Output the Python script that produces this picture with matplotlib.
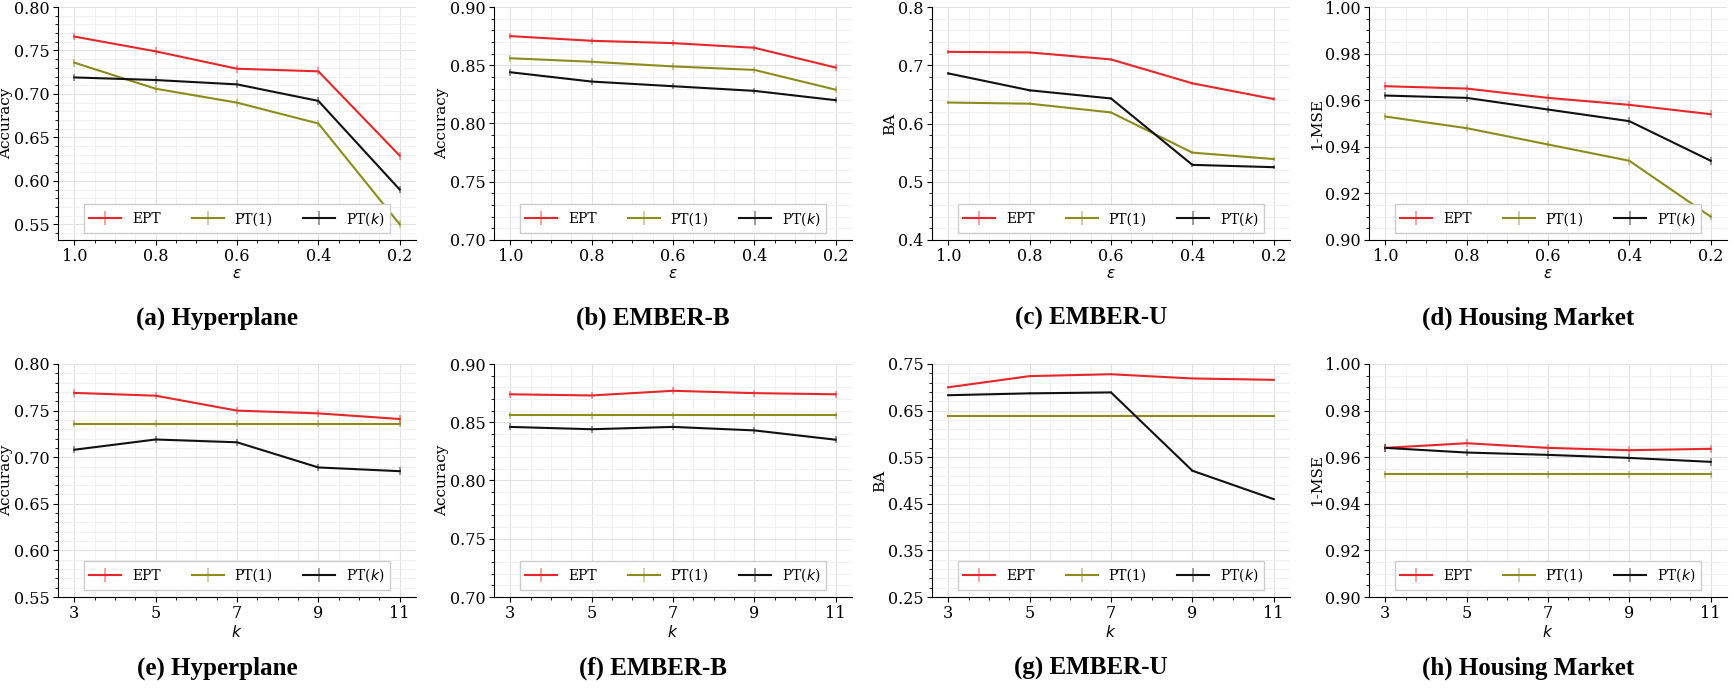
import matplotlib
matplotlib.use('Agg')
import matplotlib.pyplot as plt
from matplotlib.ticker import AutoMinorLocator

# Data

eps = [1.0, 0.8, 0.6, 0.4, 0.2]
ks = [3, 5, 7, 9, 11]
methods = ['EPT', 'PT(1)', 'PT($k$)']

# top row: varying epsilon
hyper_eps = [[0.766, 0.749, 0.729, 0.726, 0.629],
             [0.736, 0.706, 0.690, 0.666, 0.550],
             [0.719, 0.716, 0.711, 0.692, 0.590]]
emberb_eps = [[0.875, 0.871, 0.869, 0.865, 0.848],
              [0.856, 0.853, 0.849, 0.846, 0.829],
              [0.844, 0.836, 0.832, 0.828, 0.820]]
emberu_eps = [[0.723, 0.722, 0.710, 0.669, 0.642],
              [0.636, 0.634, 0.619, 0.550, 0.539],
              [0.686, 0.657, 0.643, 0.529, 0.525]]
housing_eps = [[0.966, 0.965, 0.961, 0.958, 0.954],
               [0.953, 0.948, 0.941, 0.934, 0.910],
               [0.962, 0.961, 0.956, 0.951, 0.934]]

# bottom row: varying k
hyper_k = [[0.769, 0.766, 0.750, 0.747, 0.741],
           [0.736, 0.736, 0.736, 0.736, 0.736],
           [0.708, 0.719, 0.716, 0.689, 0.685]]
emberb_k = [[0.874, 0.873, 0.877, 0.875, 0.874],
            [0.856, 0.856, 0.856, 0.856, 0.856],
            [0.846, 0.844, 0.846, 0.843, 0.835]]
emberu_k = [[0.700, 0.724, 0.728, 0.719, 0.716],
            [0.638, 0.638, 0.638, 0.638, 0.638],
            [0.683, 0.687, 0.689, 0.521, 0.460]]
housing_k = [[0.964, 0.966, 0.964, 0.963, 0.9636],
             [0.9526, 0.9526, 0.9526, 0.9526, 0.9526],
             [0.964, 0.962, 0.961, 0.9597, 0.958]]

# half-width of the error bars per series
err_hyper_eps = [0.0045, 0.0045, 0.0045]
err_emberb_eps = [0.0028, 0.0028, 0.0028]
err_emberu_eps = [0.003, 0.003, 0.003]
err_housing_eps = [0.0016, 0.0016, 0.0016]
err_hyper_k = [0.004, 0.004, 0.004]
err_emberb_k = [0.003, 0.003, 0.003]
err_emberu_k = [0.002, 0.002, 0.002]
err_housing_k = [0.0016, 0.0016, 0.0016]

captions = ['(a) Hyperplane', '(b) EMBER-B', '(c) EMBER-U', '(d) Housing Market',
            '(e) Hyperplane', '(f) EMBER-B', '(g) EMBER-U', '(h) Housing Market']

colors = ['#e8262a', '#8c8c1e', '#111111']


def draw_panel(ax, x, series, errs, ylabel, xlabel, yticks, ylim, invert):
    for vals, err, color, name in zip(series, errs, colors, methods):
        cont = ax.errorbar(x, vals, yerr=err, color=color, lw=1.5,
                           elinewidth=1.3, label=name)
        for bar in cont[2]:
            bar.set_alpha(0.45)
    ax.set_yticks(yticks)
    ax.set_ylim(*ylim)
    ax.set_xticks(x)
    if invert:
        ax.set_xlim(1.04, 0.16)
    else:
        ax.set_xlim(2.6, 11.4)
    ax.xaxis.set_minor_locator(AutoMinorLocator())
    ax.yaxis.set_minor_locator(AutoMinorLocator())
    ax.grid(which='major', color='#e2e2e2', lw=0.8)
    ax.grid(which='minor', color='#f0f0f0', lw=0.6)
    ax.set_axisbelow(True)
    for s in ['top', 'right']:
        ax.spines[s].set_visible(False)
    ax.tick_params(labelsize=11.5, pad=2.5)
    ax.set_ylabel(ylabel, fontsize=11, labelpad=0.5)
    ax.set_xlabel(xlabel, fontsize=11, labelpad=1)
    ax.legend(loc='lower center', ncol=3, fontsize=10, frameon=True,
              fancybox=False, framealpha=1, edgecolor='#cccccc',
              columnspacing=2.2, borderpad=0.4, handlelength=2.3)


def main():
    plt.rcParams['font.family'] = 'DejaVu Serif'
    plt.rcParams['mathtext.fontset'] = 'dejavusans'
    fig = plt.figure(figsize=(17.34, 6.9), dpi=100)

    panels = [
        (eps, hyper_eps, err_hyper_eps, 'Accuracy', '$\\epsilon$',
         [0.55, 0.60, 0.65, 0.70, 0.75, 0.80], (0.532, 0.80), True, '%.2f'),
        (eps, emberb_eps, err_emberb_eps, 'Accuracy', '$\\epsilon$',
         [0.70, 0.75, 0.80, 0.85, 0.90], (0.70, 0.90), True, '%.2f'),
        (eps, emberu_eps, err_emberu_eps, 'BA', '$\\epsilon$',
         [0.4, 0.5, 0.6, 0.7, 0.8], (0.4, 0.8), True, '%.1f'),
        (eps, housing_eps, err_housing_eps, '1-MSE', '$\\epsilon$',
         [0.90, 0.92, 0.94, 0.96, 0.98, 1.00], (0.90, 1.00), True, '%.2f'),
        (ks, hyper_k, err_hyper_k, 'Accuracy', '$k$',
         [0.55, 0.60, 0.65, 0.70, 0.75, 0.80], (0.55, 0.80), False, '%.2f'),
        (ks, emberb_k, err_emberb_k, 'Accuracy', '$k$',
         [0.70, 0.75, 0.80, 0.85, 0.90], (0.70, 0.90), False, '%.2f'),
        (ks, emberu_k, err_emberu_k, 'BA', '$k$',
         [0.25, 0.35, 0.45, 0.55, 0.65, 0.75], (0.25, 0.75), False, '%.2f'),
        (ks, housing_k, err_housing_k, '1-MSE', '$k$',
         [0.90, 0.92, 0.94, 0.96, 0.98, 1.00], (0.90, 1.00), False, '%.2f'),
    ]

    W, H = 1734.0, 690.0
    lefts = [58, 494, 932, 1369]
    width = 358
    rows = [(7, 240), (364, 597)]
    cap_y = [318, 668]

    for i, p in enumerate(panels):
        r, c = divmod(i, 4)
        top, bottom = rows[r]
        ax = fig.add_axes([lefts[c] / W, 1 - bottom / H, width / W, (bottom - top) / H])
        x, series, errs, ylabel, xlabel, yticks, ylim, invert, fmt = p
        draw_panel(ax, x, series, errs, ylabel, xlabel, yticks, ylim, invert)
        ax.set_yticklabels([fmt % v for v in yticks])
        if invert:
            ax.set_xticklabels(['%.1f' % v for v in x])
        fig.text((lefts[c] + width / 2 - 20) / W, 1 - cap_y[r] / H, captions[i],
                 ha='center', va='center', fontsize=18, fontweight='bold',
                 family='Liberation Serif')

    fig.savefig('out.png', dpi=100)


if __name__ == '__main__':
    main()
